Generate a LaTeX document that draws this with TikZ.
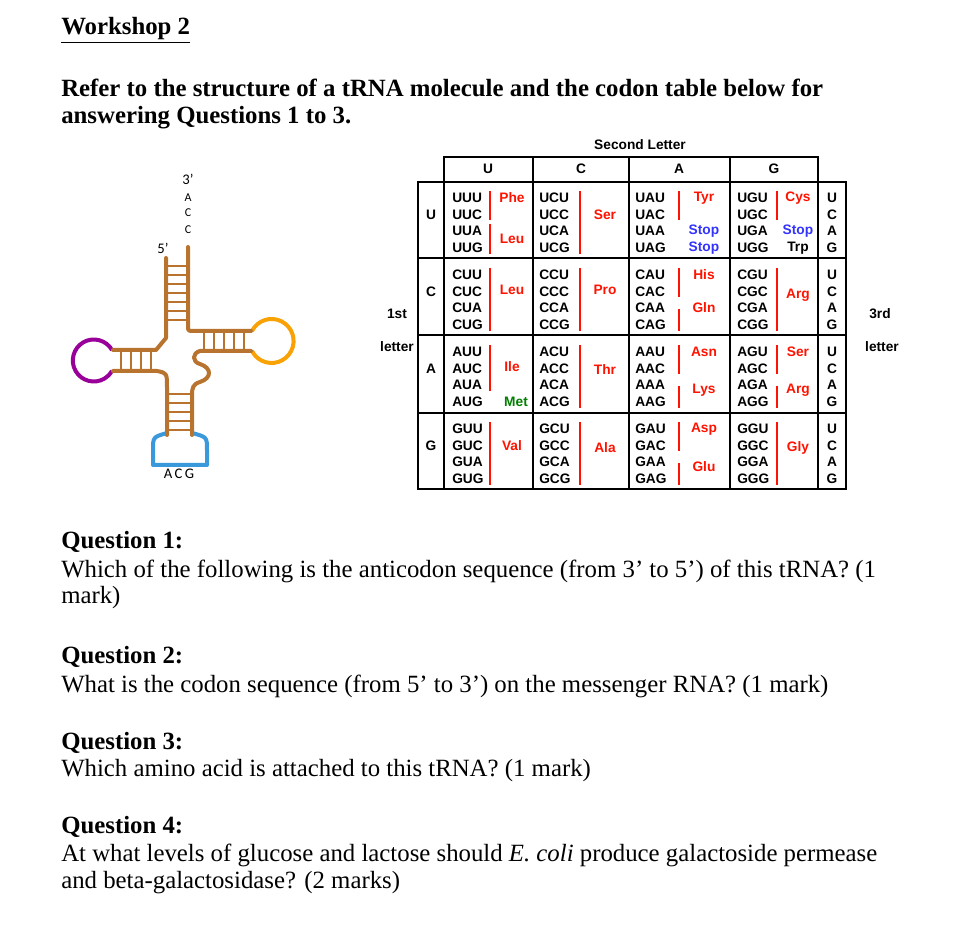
\documentclass[tikz,border=0pt]{standalone}
\usepackage{fontspec}
\setmainfont{Liberation Serif}
\newfontfamily\tabf{Liberation Sans}
\newfontfamily\labf{Carlito}
\begin{document}
\begin{tikzpicture}[x=0.75pt,y=-0.75pt,
  body/.style={anchor=west,inner sep=0,font=\fontsize{18.6}{22}\selectfont},
  bbody/.style={anchor=west,inner sep=0,font=\bfseries\fontsize{18.6}{22}\selectfont},
  tb/.style={inner sep=0,font=\tabf\bfseries\fontsize{10.3}{12}\selectfont},
  aa/.style={tb,text=red!85!orange},
  bar/.style={red!85!orange,line width=1.8pt},
  stem/.style={draw=brown!80!orange!90!black,line width=3pt,line cap=round,line join=round},
  rung/.style={draw=brown!80!orange!90!black,line width=1.6pt},
  grid/.style={line width=1pt}]
\useasboundingbox (0,0) rectangle (976,948);
\fill[white] (0,0) rectangle (976,948);
% ---- text
\node[bbody] (t0) at (61,30) {\underline{Workshop 2}};
\node[bbody] (t1) at (61,88) {Refer to the structure of a tRNA molecule and the codon table below for};
\node[bbody] (t2) at (61,118) {answering Questions 1 to 3.};
\node[bbody] (q1) at (61,542) {Question 1:};
\node[body] (q1a) at (61,571) {Which of the following is the anticodon sequence (from 3’ to 5’) of this tRNA? (1};
\node[body] (q1b) at (61,598) {mark)};
\node[bbody] (q2) at (61,657) {Question 2:};
\node[body] (q2a) at (61,686) {What is the codon sequence (from 5’ to 3’) on the messenger RNA? (1 mark)};
\node[bbody] (q3) at (61,743) {Question 3:};
\node[body] (q3a) at (61,771) {Which amino acid is attached to this tRNA? (1 mark)};
\node[bbody] (q4) at (61,827) {Question 4:};
\node[body] (q4a) at (61,855) {At what levels of glucose and lactose should \textit{E. coli} produce galactoside permease};
\node[body] (q4b) at (61,883) {and beta-galactosidase? (2 marks)};
% ---- tRNA
\draw[line width=3pt,violet!80!magenta] (112,350) arc[start angle=-30,end angle=-330,radius=21];
\draw[line width=3pt,orange!70!yellow!90!brown] (252,331) arc[start angle=-153,end angle=153,radius=22];
\draw[line width=3pt,cyan!70!blue!80!white,line join=round] (167,433) .. controls (153,437) .. (153,450) -- (153,465) -- (207,465) -- (207,450) .. controls (207,437) .. (192,433);
\foreach \y in {266,275,284,293,302,311,320} \draw[rung] (166,\y) -- (188,\y);
\foreach \x in {204,214,224,234,244} \draw[rung] (\x,331) -- (\x,351);
\foreach \x in {121,131,141,151} \draw[rung] (\x,350) -- (\x,371);
\foreach \y in {394,403,412,421,430} \draw[rung] (167,\y) -- (192,\y);
\draw[stem] (166,258) -- (166,338) -- (156,350) -- (113,350);
\draw[stem] (113,371) -- (157,371) .. controls (167,373) .. (167,388) -- (167,435);
\draw[stem] (188,247) -- (188,326) .. controls (188,331) .. (194,331) -- (251,331);
\draw[stem] (251,351) -- (200,351) .. controls (192,353) and (192,362) .. (200,364) .. controls (212,368) and (212,378) .. (200,382) .. controls (193,384) and (192,388) .. (192,395) -- (192,435);
\node[inner sep=0,font=\labf\fontsize{11}{12}\selectfont] (p3) at (188,179) {3’};
\foreach \l/\y in {A/198,C/213,C/230} \node[inner sep=0,font=\labf\fontsize{9}{10}\selectfont] at (188,\y) {\l};
\node[inner sep=0,font=\labf\fontsize{11}{12}\selectfont] (p5) at (163,248) {5’};
\node[inner sep=0,font=\labf\fontsize{11}{12}\selectfont] (ac) at (179,474) {A\,C\,G};
% ---- codon table
\draw[grid] (444,157) rectangle (818,182);
\foreach \x in {533,629,730} \draw[grid] (\x,157) -- (\x,182);
\draw[grid] (418,182) rectangle (846,489);
\foreach \x in {444,533,629,730,818} \draw[grid] (\x,182) -- (\x,489);
\foreach \y in {258,335,413} \draw[grid] (418,\y) -- (846,\y);
\node[tb] (sl) at (640,145) {Second Letter};
\foreach \x/\l in {488/U,581/C,679/A,774/G} \node[tb] at (\x,169) {\l};
\node[tb] at (397,314) {1st};
\node[tb] at (397,347) {letter};
\node[tb] at (880,314) {3rd};
\node[tb] at (882,347) {letter};
\foreach \r/\f in {0/U,1/C,2/A,3/G}{
  \pgfmathsetmacro{\yo}{198+77*\r}
  \node[tb] at (431,\yo+17) {\f};
  \foreach \t/\tl in {0/U,1/C,2/A,3/G}{
    \node[tb] at (832,\yo+16.6*\t) {\tl};
    \foreach \c/\s in {0/U,1/C,2/A,3/G}{
      \pgfmathsetmacro{\xo}{{452,539,635,737}[\c]}
      \node[tb,anchor=west] at (\xo,\yo+16.6*\t) {\f\s\tl};
    }}}
% bars
\foreach \x/\a/\b in {490/189/222, 490/222/256, 580/189/256, 679/189/222, 777/189/222,
  490/266/333, 580/266/333, 679/266/299, 679/307/333, 777/266/333,
  490/343/393, 580/343/410, 679/343/376, 679/384/410, 777/343/376, 777/384/410,
  490/420/487, 580/420/487, 679/420/453, 679/461/487, 777/420/487}
  \draw[bar] (\x,\a+2) -- (\x,\b-2);
% amino acids
\foreach \x/\y/\t in {512/198/Phe,512/239/Leu,605/215/Ser,704/198/Tyr,798/198/Cys,
  512/290/Leu,605/290/Pro,704/275/His,704/308/Gln,798/295/Arg,
  512/367/Ile,605/370/Thr,704/352/Asn,704/390/Lys,798/352/Ser,798/390/Arg,
  512/446/Val,605/448/Ala,704/429/Asp,704/467/Glu,798/448/Gly}
  \node[aa] at (\x,\y) {\t};
\node[tb,text=blue!80!white] at (704,231) {Stop};
\node[tb,text=blue!80!white] at (704,248) {Stop};
\node[tb,text=blue!80!white] at (798,231) {Stop};
\node[tb] at (798,248) {Trp};
\node[tb,text=green!50!black] at (516,402) {Met};
\end{tikzpicture}
\end{document}
